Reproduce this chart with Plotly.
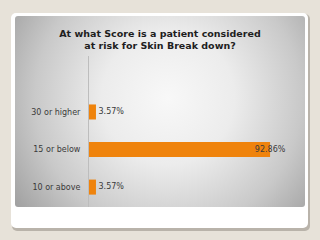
import base64
import plotly.graph_objects as go

categories = ["10 or above", "15 or below", "30 or higher"]
values = [3.57, 92.86, 3.57]
value_labels = ["\u00a03.57%", "92.86%", "\u00a03.57%"]
label_positions = ["middle right", "middle center", "middle right"]
title_text = "At what Score is a patient considered<br>at risk for Skin Break down?"

W, H = 320, 240
L, R, T, B = 89, 30, 56, 33
pw, ph = W - L - R, H - T - B

svg = f'''<svg xmlns="http://www.w3.org/2000/svg" width="{W}" height="{H}" viewBox="0 0 {W} {H}">
<defs>
<radialGradient id="g" gradientUnits="userSpaceOnUse" cx="168" cy="98" r="190">
<stop offset="0" stop-color="#f8f8f8"/>
<stop offset="0.35" stop-color="#ececec"/>
<stop offset="0.7" stop-color="#c9c9c9"/>
<stop offset="1" stop-color="#9e9e9e"/>
</radialGradient>
</defs>
<rect x="0" y="0" width="{W}" height="{H}" fill="#e7e2d9"/>
<rect x="12" y="14" width="298" height="217" rx="5" fill="#b9b3aa"/>
<rect x="11" y="13" width="297" height="215" rx="5" fill="#ffffff"/>
<rect x="15" y="16" width="290" height="191" rx="3" fill="url(#g)"/>
</svg>'''
src = "data:image/svg+xml;base64," + base64.b64encode(svg.encode()).decode()

fig = go.Figure()
fig.add_trace(go.Bar(
    y=categories, x=values, orientation="h",
    marker=dict(color="#ef830c", line=dict(width=0)),
    width=0.4, showlegend=False, hoverinfo="skip",
))
fig.add_trace(go.Scatter(
    y=categories, x=values, mode="text", text=value_labels,
    textposition=label_positions,
    textfont=dict(family="DejaVu Sans", size=8, color="#3a3a3a"),
    showlegend=False, hoverinfo="skip", cliponaxis=False,
))

fig.update_layout(
    width=W, height=H,
    margin=dict(l=L, r=R, t=T, b=B, pad=0),
    paper_bgcolor="#e7e2d9",
    plot_bgcolor="rgba(0,0,0,0)",
    images=[dict(
        source=src, xref="paper", yref="paper",
        x=-L / pw, y=1 + T / ph, sizex=W / pw, sizey=H / ph,
        xanchor="left", yanchor="top", sizing="stretch", layer="below",
    )],
    title=dict(
        text=title_text, xref="container", yref="container",
        x=0.5, xanchor="center", y=1 - 37 / H, yanchor="top",
        font=dict(family="DejaVu Sans", size=9.5, color="#1e1e1e", weight="bold"),
    ),
    xaxis=dict(range=[0, pw / 1.95], visible=False, fixedrange=True),
    yaxis=dict(
        range=[-0.53, 3.49], showline=True, linecolor="#bdbdbd", linewidth=1,
        showgrid=False, zeroline=False, ticks="", ticklabelstandoff=6,
        tickfont=dict(family="DejaVu Sans", size=8, color="#3a3a3a"),
        fixedrange=True,
    ),
    font=dict(family="DejaVu Sans"),
)

fig.write_html("out.html", config={"displayModeBar": False})
